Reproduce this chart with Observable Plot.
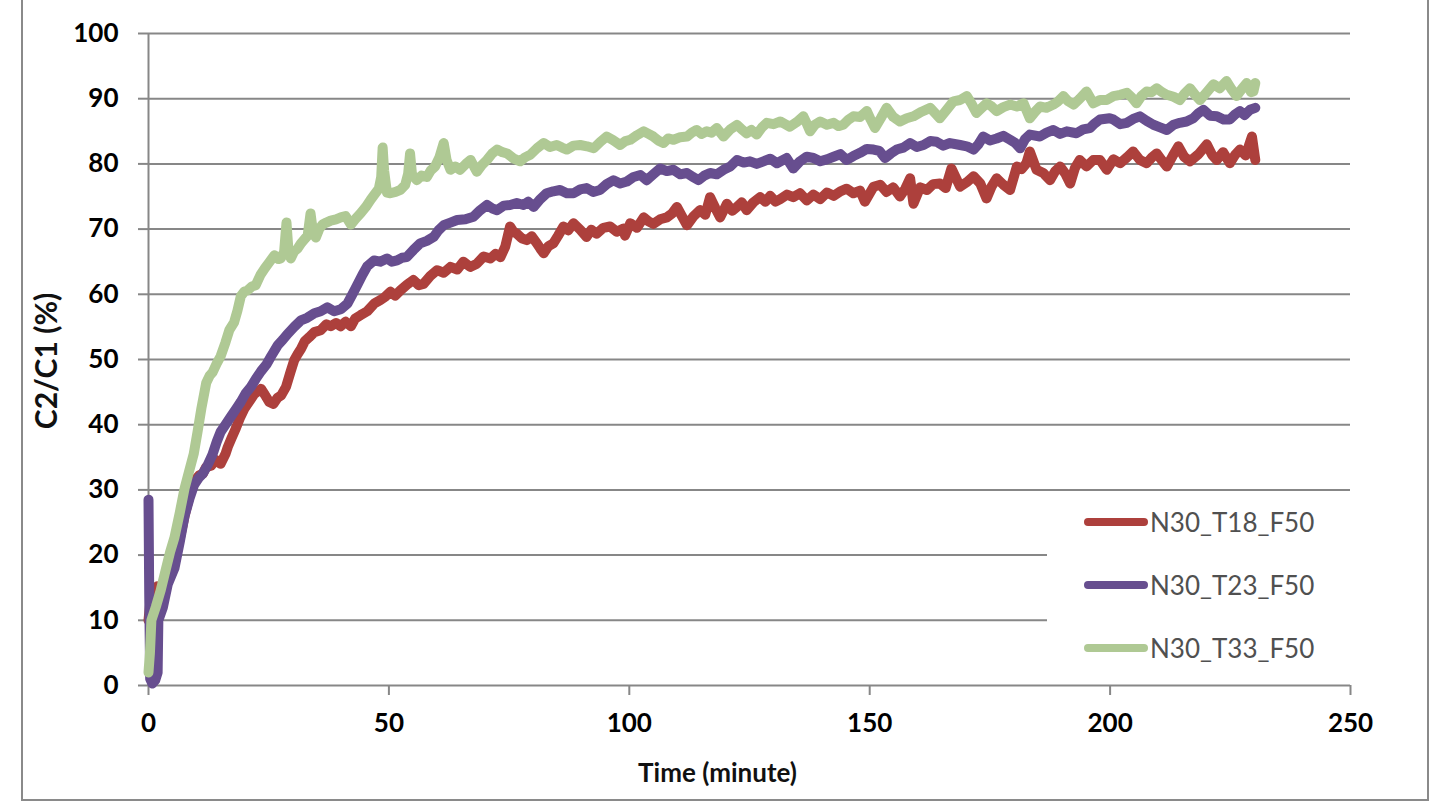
<!DOCTYPE html>
<html>
<head>
<meta charset="utf-8">
<script src="https://cdn.jsdelivr.net/npm/d3@7"></script>
<script src="https://cdn.jsdelivr.net/npm/@observablehq/plot@0.6"></script>
<style>
  html, body { margin: 0; padding: 0; background: #fff; }
  #wrap { position: relative; width: 1452px; height: 807px; overflow: hidden; font-family: Lato, "Open Sans", sans-serif; }
  #frame { position: absolute; left: 21px; top: -10px; width: 1408px; height: 811px; border: 2px solid #8a8a8a; box-sizing: border-box; }
  #chart { position: absolute; left: 0; top: 0; }
  #legend { position: absolute; left: 1047px; top: 494px; width: 303px; height: 186px; background: #fff; }
  .item { position: absolute; left: 36px; height: 30px; display: flex; align-items: center; }
  .item span { font-size: 26px; color: #505050; margin-left: 1px; }
  #ylabel { position: absolute; left: 45px; top: 361px; transform: translate(-50%, -50%) rotate(-90deg); white-space: nowrap; font-size: 30px; font-weight: bold; color: #111; }
</style>
</head>
<body>
<div id="wrap"><div id="frame"></div><div id="chart"></div><div id="ylabel"></div><div id="legend"></div></div>
<script>
const seriesNames = ["N30_T18_F50", "N30_T23_F50", "N30_T33_F50"];
const seriesColors = ["#AD403C", "#674E8F", "#AFC994"];
const xTicks = [0, 50, 100, 150, 200, 250];
const yTicks = [0, 10, 20, 30, 40, 50, 60, 70, 80, 90, 100];

const redPts = [[0,10],[0.4,13],[1,14.5],[1.8,15.2],[2.6,14.8],[3.5,15.8],[4.5,17.5],[5.4,19.2],[6.5,22.5],[7.5,26],[8.5,29],[9.5,31.4],[10.5,32.2],[11.3,32.5],[12,33.5],[13,33.7],[14,34.6],[15,34],[16,35.5],[16.5,36.6],[17.3,38],[18.2,39.5],[19,41],[19.9,42.4],[21,43.6],[22,44.7],[23.4,45.5],[24.2,44.6],[25.1,43.5],[26,43.2],[26.8,44.1],[27.6,44.5],[28.6,45.8],[29.5,48],[30.3,49.9],[31,50.8],[31.7,51.6],[32.5,52.8],[33.4,53.4],[34.5,54.2],[35.8,54.5],[37,55.4],[37.9,55.1],[39,55.6],[40,55.1],[41,55.8],[42.1,55.1],[43,56.3],[44.1,56.8],[45.5,57.4],[47,58.6],[48.2,59.1],[49.2,59.6],[50.3,60.4],[51.3,59.8],[52.4,60.6],[53.8,61.5],[55.1,62.2],[56.2,61.4],[57.2,61.6],[58.6,62.8],[60,63.7],[61.4,63.3],[62.8,64.2],[64.2,63.8],[65.5,65],[66.9,64.2],[68.3,64.7],[69.7,65.8],[71.1,65.5],[72.2,66.2],[73.2,65.7],[74.2,67.3],[75.2,70.4],[75.9,69.6],[76.6,69.3],[77.6,68.6],[78.7,68.3],[79.7,68.9],[80.8,67.8],[81.5,67],[82.2,66.3],[83.2,67.4],[84.2,67.8],[85.2,69],[86.3,70.4],[87.3,69.8],[88.4,70.9],[89.8,69.9],[91.1,68.8],[92.1,69.9],[93.2,69.3],[94.6,70.2],[96,70.4],[97.4,69.6],[98.8,70.1],[99.1,69],[100.2,70.9],[101.6,70.2],[103,71.8],[104,71.2],[105,70.8],[106.4,71.5],[107.8,71.8],[108.9,72.4],[109.9,73.4],[111,71.9],[112,70.6],[113.4,72],[114.7,72.9],[115.8,72.2],[116.8,74.9],[117.9,73.2],[118.9,71.8],[120.3,73.9],[121.4,72.8],[122.4,73.4],[123.4,74.1],[124.4,72.9],[125.8,74.1],[127.2,74.9],[128.3,74.2],[129.3,75.1],[130.4,74.2],[131.4,74.6],[132.8,75.3],[134.1,74.9],[135.5,75.5],[136.9,74.4],[138.3,75.3],[139.7,74.6],[141.1,75.6],[142.5,75.1],[143.9,75.8],[145.2,76.2],[146.6,75.5],[148,75.9],[149,74.2],[150.8,76.5],[152.2,76.8],[153.5,75.7],[154.9,76.4],[156.3,75],[157.4,76.2],[158.4,77.8],[159.1,73.9],[160.5,76.4],[161.9,76],[163.2,76.9],[164.6,77],[165.8,76.3],[167,79.3],[168.8,76.5],[170.2,77.2],[171.6,78.1],[173,77],[174.3,74.7],[175.4,76.6],[176.4,77.8],[177.8,76.8],[179.2,76],[180.6,79.6],[181.6,79.2],[182.6,80.1],[183.3,81.9],[184.7,79.1],[186.1,78.6],[187.5,77.5],[188.6,78.9],[189.6,79.6],[190.7,78.5],[191.7,77],[192.7,79.4],[193.7,80.6],[195.1,79.6],[196.5,80.6],[197.9,80.6],[199.3,79.1],[200.7,80.7],[202.1,80.1],[203.5,81],[204.8,81.9],[206.2,80.6],[207.6,80.1],[208.7,81],[209.7,81.6],[210.8,80.5],[211.8,79.6],[213,81.2],[214.2,82.7],[215.4,81.1],[216.6,80.4],[218.4,81.5],[220.1,83],[221.2,81.4],[222.2,80.6],[223.5,81.8],[224.9,80.1],[226,81.4],[227,82.2],[228.2,81.3],[229.5,84.2],[230.2,80.6]];

const purplePts = [[0,28.5],[0.15,14],[0.35,1],[0.8,0.3],[1.4,0.8],[1.9,2],[2.05,10],[3,12],[4,15.5],[5.4,18],[6.5,22],[7.5,26],[8.5,28.6],[9.5,30.8],[10.4,31.8],[11.3,32.5],[12.3,33.8],[13.3,35.4],[14.2,37.4],[15,38.9],[16,40],[17.1,41.2],[18.2,42.4],[19.2,43.5],[20.2,44.8],[21.3,45.8],[22.3,47],[23.4,48.2],[24.5,49.2],[25.5,50.5],[26.9,52.2],[27.9,53],[28.9,53.9],[30.3,55],[31.7,56],[33,56.4],[34.5,57.1],[35.8,57.4],[37.2,58],[38.6,57.4],[40,57.7],[41.4,58.6],[42.4,60],[43.4,61.4],[44.5,63],[45.5,64.3],[46.9,65.2],[48.2,65],[49.6,65.5],[50.6,65],[51.7,65.2],[52.7,65.6],[53.7,65.7],[55.1,66.8],[56.5,67.8],[57.9,68.2],[59.3,68.8],[60.3,69.8],[61.4,70.6],[62.8,71],[64.2,71.4],[65.9,71.5],[67.6,71.9],[69,72.9],[70.4,73.7],[71.4,73.2],[72.5,72.9],[73.9,73.6],[75.2,73.7],[76.6,74],[78,73.7],[79,74.2],[80.1,73.4],[81.5,74.6],[82.8,75.5],[84.2,75.8],[85.6,76],[87,75.5],[88.4,75.5],[89.8,76.1],[91.1,76.3],[92.5,75.7],[93.9,76],[95.3,76.9],[96.7,77.5],[98.1,77],[99.5,77.3],[100.9,78],[102.3,78.3],[103.6,77.5],[105,78.4],[106.4,79.3],[107.8,78.9],[109.2,79.1],[110.6,78.4],[112,78.6],[113.2,78],[114.4,77.5],[115.6,78.2],[116.8,78.6],[118.2,78.4],[119.6,79.1],[121,79.6],[122.4,80.6],[123.8,80.2],[125.1,80.4],[126.5,80],[127.9,80.4],[129.3,80.8],[130.7,80.1],[132.7,80.9],[134.1,79.3],[135.5,80.4],[136.9,81.1],[138.3,80.9],[139.7,80.4],[141.1,80.7],[142.5,81.1],[143.9,81.5],[145.2,80.6],[146.6,81.2],[148,81.7],[149.4,82.3],[150.8,82.2],[152,82],[153.2,80.9],[154.4,81.6],[155.6,82.2],[157,82.5],[158.4,83.2],[159.8,82.6],[161.2,82.9],[162.6,83.5],[163.9,83.4],[165.3,82.8],[166.7,83.2],[168.8,82.9],[170.2,82.7],[171.6,82.2],[172.6,83],[173.6,84.2],[175,83.6],[176.4,83.9],[177.8,84.3],[179.2,83.7],[180.3,83.2],[181.3,82.4],[182.3,83.8],[183.3,84.5],[185.4,84.2],[186.8,84.8],[188.2,85.2],[189.6,84.6],[191,85],[193,84.7],[194.4,85.3],[195.8,85.5],[196.8,86.2],[197.9,86.8],[199.9,87],[200.7,86.8],[202.1,86.1],[203.5,86.3],[204.8,86.9],[206.2,87.3],[207.6,86.6],[209,86],[210.4,85.6],[211.8,85.2],[213.2,86],[214.5,86.3],[215.9,86.5],[217.3,87],[218.4,87.8],[219.4,88.3],[220.8,87.4],[222.2,87.3],[223.6,86.8],[224.9,86.8],[226,87.6],[227,88.1],[228,87.5],[229.1,88.3],[230.2,88.6]];

const greenPts = [[0,2],[0.3,5],[0.6,10],[1.5,12],[2.5,14.5],[3.5,17.5],[4.5,20.5],[5.4,22.7],[6.5,26.5],[7.5,30.2],[8.5,33],[9.4,35.5],[10.2,38.9],[11,42.5],[12,46.4],[12.7,47.5],[13.3,48],[14.2,49.4],[15,50.5],[16,52.6],[16.8,54.5],[17.8,55.7],[18.5,57.5],[19.2,59.7],[19.9,60.4],[20.6,60.6],[21.5,61.2],[22.3,61.4],[23.3,63],[24.2,64],[25.1,64.9],[26.2,66],[27,65.4],[27.5,65.5],[28.2,66.5],[28.7,71],[29.1,66.8],[29.6,65.5],[30.3,66.6],[31,67],[31.7,67.8],[32.4,68.4],[33.1,69],[33.7,72.4],[34.2,69.6],[34.8,68.7],[35.5,70],[36.2,70.7],[37,71],[37.9,71.3],[39,71.5],[40,71.8],[41,72],[42.1,70.7],[43.1,71.6],[44.1,72.4],[45.2,73.4],[46.2,74.5],[47,75.3],[47.9,76.2],[48.4,78],[48.7,82.5],[49,79],[49.6,75.6],[50.3,75.5],[51.4,75.7],[52.4,76],[53.4,76.8],[54,78.5],[54.4,81.6],[54.8,78.4],[55.8,77.5],[56.8,78.2],[57.9,78],[58.7,79],[59.6,79.6],[60.5,81],[61.4,83.2],[62,80.6],[62.8,79.1],[63.8,79.6],[64.8,79.1],[66,80],[67,80.6],[67.7,79.6],[68.3,78.8],[69.3,79.8],[70.4,80.6],[71.5,81.6],[72.5,82.2],[73.6,81.8],[74.6,81.6],[76,80.8],[77.3,80.4],[78.3,81],[79.4,81.4],[80.8,82.4],[82.2,83.2],[83.5,82.6],[84.9,82.9],[86,82.5],[87,82.2],[88.4,82.8],[89.8,82.9],[91.2,82.7],[92.6,82.4],[94,83.4],[95.3,84.2],[96.7,83.6],[98.1,82.9],[99.2,83.5],[100.2,83.7],[101.6,84.4],[103,85],[104,84.6],[105,84.2],[106,83.6],[107.1,83.2],[108.1,83.9],[109.2,83.7],[110.6,84.1],[112,84.2],[113,84.8],[114,85.2],[115,84.6],[116.1,85],[117.1,84.8],[118.2,85.5],[119.6,84.2],[121,85.3],[122.4,86],[123.4,85.3],[124.4,84.7],[125.4,85.2],[126.5,84.5],[127.6,85.6],[128.6,86.3],[130,86.1],[131.4,86.5],[132.4,86.1],[133.4,85.7],[134.8,86.4],[136.2,87.3],[136.9,86.2],[137.6,85],[138.6,86],[139.7,86.5],[141.1,86],[142.5,86.3],[143.5,85.8],[144.5,86],[145.6,86.8],[146.6,87.3],[148,87.2],[149.4,88.1],[150.2,86.8],[151.1,85.5],[152.3,87],[153.5,88.6],[154.9,87.2],[156.3,86.5],[157.7,87],[159.1,87.3],[160.8,88],[162.6,88.6],[163.6,87.8],[164.6,87],[166,88.3],[167.4,89.6],[168.8,89.8],[170.2,90.4],[171.2,89.2],[172.2,87.8],[173.3,88.6],[174.3,89.3],[175.4,88.8],[176.4,88.1],[177.8,88.7],[179.2,89.1],[180.6,88.8],[182,89.3],[183.3,87],[184.4,88],[185.4,88.8],[186.8,88.6],[188.2,89.1],[189.2,89.6],[190.3,90.4],[191.3,89.6],[192.4,89.1],[193.7,90],[195.1,91.1],[196.5,89.3],[197.9,89.8],[199.3,89.8],[200.7,90.4],[202.1,90.6],[203.5,90.9],[204.5,90.2],[205.5,89.3],[206.5,90.4],[207.6,91.1],[208.6,91],[209.7,91.6],[210.8,91],[211.8,90.6],[213.2,90.3],[214.5,89.8],[215.5,90.8],[216.6,91.6],[217.7,90.6],[218.7,89.8],[220.1,91],[221.5,92.2],[222.8,91.6],[224.2,92.7],[225.3,91.4],[226.3,90.4],[227.4,91.5],[228.4,92.4],[229.3,91],[229.8,91.1],[230.2,92.4]];

const seriesPts = [redPts, purplePts, greenPts];
const xLabel = "Time (minute)";
const yLabel = "C2/C1 (%)";

const gridColor = "#878787";
const lineMarks = seriesPts.map((pts, i) =>
  Plot.line(pts, {x: d => d[0], y: d => d[1], stroke: seriesColors[i], strokeWidth: 10, strokeLinejoin: "round", strokeLinecap: "round"})
);

const chart = Plot.plot({
  width: 1452,
  height: 807,
  marginLeft: 148,
  marginRight: 102,
  marginTop: 33,
  marginBottom: 122,
  style: {fontFamily: "Lato, 'Open Sans', sans-serif", background: "transparent", color: "#000"},
  x: {domain: [0, 250]},
  y: {domain: [0, 100]},
  marks: [
    Plot.ruleY(yTicks, {stroke: gridColor, strokeWidth: 2}),
    Plot.ruleX([0], {stroke: gridColor, strokeWidth: 2}),
    Plot.axisY({ticks: yTicks, tickSize: 10, tickPadding: 20, stroke: gridColor, strokeWidth: 2, fill: "#000", fontSize: 26, fontWeight: "bold", label: null, tickFormat: d => String(d)}),
    Plot.axisX({ticks: xTicks, tickSize: 10, tickPadding: 18, stroke: gridColor, strokeWidth: 2, fill: "#000", fontSize: 26, fontWeight: "bold", label: null, tickFormat: d => String(d)}),
    ...lineMarks,
    Plot.text([xLabel], {frameAnchor: "bottom", dy: 88, dx: -32, lineAnchor: "middle", fontSize: 26, fontWeight: "bold", fill: "#111"})
  ]
});
document.getElementById("chart").appendChild(chart);
document.getElementById("ylabel").textContent = yLabel;

const legend = document.getElementById("legend");
const itemTops = [13, 76, 139];
seriesNames.forEach((name, i) => {
  const item = document.createElement("div");
  item.className = "item";
  item.style.top = itemTops[i] + "px";
  item.innerHTML = `<svg width="66" height="12"><line x1="5" y1="6" x2="61" y2="6" stroke="${seriesColors[i]}" stroke-width="8" stroke-linecap="round"/></svg><span>${name}</span>`;
  legend.appendChild(item);
});
</script>
</body>
</html>
